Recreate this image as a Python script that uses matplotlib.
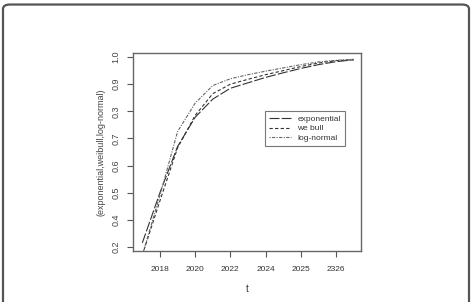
import matplotlib
matplotlib.use('Agg')
import matplotlib.pyplot as plt
from matplotlib.patches import FancyBboxPatch

# values
years = [2017, 2018, 2019, 2020, 2021, 2022, 2023, 2024, 2025, 2026, 2027, 2028, 2029]
exponential = [0.315, 0.50, 0.67, 0.778, 0.845, 0.885, 0.905, 0.925, 0.942, 0.958, 0.972, 0.983, 0.99]
weibull = [0.27, 0.47, 0.665, 0.785, 0.865, 0.90, 0.918, 0.935, 0.95, 0.965, 0.978, 0.987, 0.99]
lognormal = [0.27, 0.49, 0.725, 0.83, 0.895, 0.92, 0.935, 0.948, 0.96, 0.972, 0.982, 0.988, 0.992]

xticks = [2018, 2020, 2022, 2024, 2026, 2028]
xticklabels = ['2018', '2020', '2022', '2024', '2025', '2326']
yticks = [0.3, 0.4, 0.5, 0.6, 0.7, 0.8, 0.9, 1.0]
yticklabels = ['0.2', '0.4', '0.5', '0.6', '0.7', '0.3', '0.9', '1.0']

plt.rcParams['font.family'] = ['Liberation Sans', 'DejaVu Sans']

fig = plt.figure(figsize=(4.74, 3.02), dpi=100)

# page frame around the figure
frame = FancyBboxPatch((3 / 474, -0.05), 466 / 474, 1.035, boxstyle='round,pad=0,rounding_size=0.015',
                       transform=fig.transFigure, fill=False, edgecolor='#555555', linewidth=1.6)
fig.patches.append(frame)

ax = fig.add_axes([133 / 474, 1 - 251 / 302, 228 / 474, 198 / 302])
line_col = '#333333'
ax.plot(years, exponential, color=line_col, lw=0.8, linestyle=(0, (9, 2)), label='exponential')
ax.plot(years, weibull, color=line_col, lw=0.8, linestyle=(0, (3, 2)), label='we bull')
ax.plot(years, lognormal, color='#666666', lw=0.8, linestyle=(0, (1, 1.2, 3, 1.2)), label='log-normal')

ax.set_xlim(2016.47, 2029.42)
ax.set_ylim(0.285, 1.015)
ax.set_xticks(xticks)
ax.set_xticklabels(xticklabels, fontsize=6, color='#333333')
ax.set_yticks(yticks)
ax.set_yticklabels(yticklabels, fontsize=6.5, color='#444444', rotation=90, va='center')
ax.tick_params(axis='x', length=4, width=0.8, color='#555555', pad=7)
ax.tick_params(axis='y', length=4, width=0.8, color='#555555', pad=5)
for s in ax.spines.values():
    s.set_color('#666666')
    s.set_linewidth(1.0)

ax.set_xlabel('t', fontsize=7, color='#333333', labelpad=8)
ax.set_ylabel('(exponential,weibull,log-normal)', fontsize=6.5, color='#444444', labelpad=4)

leg = ax.legend(loc='upper left', bbox_to_anchor=(0.579, 0.705), fontsize=6, frameon=True,
                fancybox=False, handlelength=2.6, handletextpad=0.8, borderpad=0.5,
                labelspacing=0.15, borderaxespad=0)
leg.get_frame().set_edgecolor('#555555')
leg.get_frame().set_linewidth(0.8)
for t in leg.get_texts():
    t.set_color('#333333')

fig.savefig('out.png', dpi=100)
